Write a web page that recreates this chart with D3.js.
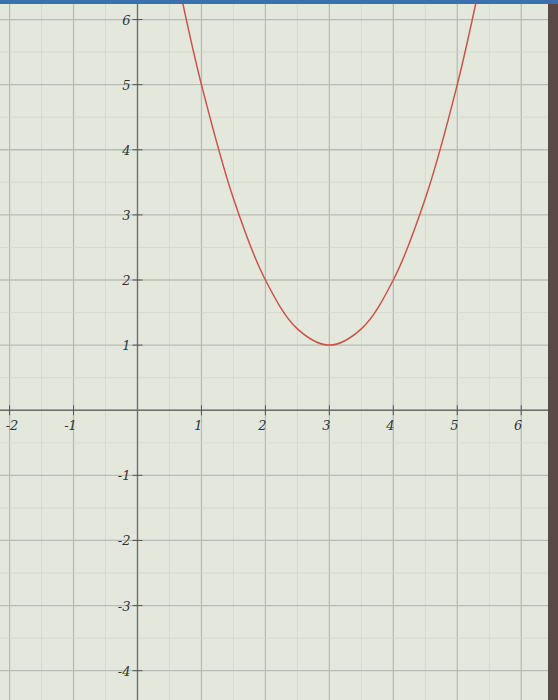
<!DOCTYPE html>
<html><head><meta charset="utf-8">
<script src="https://cdn.jsdelivr.net/npm/d3@7"></script>
<style>body{margin:0;background:#e6e9df;}svg{display:block}</style>
</head><body><svg id="c" width="558" height="700"></svg>
<script>
const xTicks=[-2,-1,1,2,3,4,5,6];
const yTicks=[-4,-3,-2,-1,1,2,3,4,5,6];
const curveX=[0.6,0.75,1,1.5,2,2.5,3,3.5,4,4.5,5,5.4];
const curveY=[6.76,6.06,5,3.25,2,1.25,1,1.25,2,3.25,5,6.76];
const svg=d3.select("#c");
const x=d3.scaleLinear().domain([-2.15,6.45]).range([0,550]);
const y=d3.scaleLinear().domain([6.3,-4.45]).range([0,700]);
svg.append("rect").attr("width",558).attr("height",700).attr("fill","#e4e8dc");
const isInt=d=>Number.isInteger(d);
svg.append("g").selectAll("line").data(d3.range(-4,13).map(d=>d/2)).join("line")
 .attr("x1",d=>x(d)).attr("x2",d=>x(d)).attr("y1",0).attr("y2",700)
 .attr("stroke",d=>isInt(d)?"#b9bcb5":"#d3d6cd").attr("stroke-width",d=>isInt(d)?1.3:0.8);
svg.append("g").selectAll("line").data(d3.range(-10,14).map(d=>d/2)).join("line")
 .attr("y1",d=>y(d)).attr("y2",d=>y(d)).attr("x1",0).attr("x2",550)
 .attr("stroke",d=>isInt(d)?"#b9bcb5":"#d3d6cd").attr("stroke-width",d=>isInt(d)?1.3:0.8);
svg.append("line").attr("x1",0).attr("x2",550).attr("y1",y(0)).attr("y2",y(0)).attr("stroke","#6d706b").attr("stroke-width",1.3);
svg.append("line").attr("x1",x(0)).attr("x2",x(0)).attr("y1",0).attr("y2",700).attr("stroke","#6d706b").attr("stroke-width",1.3);
svg.append("g").selectAll("line").data(xTicks).join("line").attr("x1",d=>x(d)).attr("x2",d=>x(d)).attr("y1",y(0)-5).attr("y2",y(0)+5).attr("stroke","#555");
svg.append("g").selectAll("line").data(yTicks).join("line").attr("y1",d=>y(d)).attr("y2",d=>y(d)).attr("x1",x(0)-5).attr("x2",x(0)+5).attr("stroke","#555");
svg.append("g").selectAll("text").data(xTicks).join("text").attr("x",d=>Math.max(12,x(d)-3)).attr("y",y(0)+20)
 .attr("text-anchor","middle").attr("font-family","DejaVu Serif").attr("font-style","italic").attr("font-size",13).attr("fill","#333").text(d=>d);
svg.append("g").selectAll("text").data(yTicks).join("text").attr("x",x(0)-7).attr("y",d=>Math.max(14,y(d)+5))
 .attr("text-anchor","end").attr("font-family","DejaVu Serif").attr("font-style","italic").attr("font-size",13).attr("fill","#333").text(d=>d);
const pts=curveX.map((v,i)=>[v,curveY[i]]);
svg.append("path").attr("d",d3.line().x(d=>x(d[0])).y(d=>y(d[1])).curve(d3.curveCatmullRom)(pts))
 .attr("fill","none").attr("stroke","#c8544a").attr("stroke-width",1.5);
svg.append("rect").attr("x",548).attr("y",0).attr("width",10).attr("height",700).attr("fill","#5a4a45");
svg.append("rect").attr("x",0).attr("y",0).attr("width",558).attr("height",4).attr("fill","#3d6fb0");
</script></body></html>
